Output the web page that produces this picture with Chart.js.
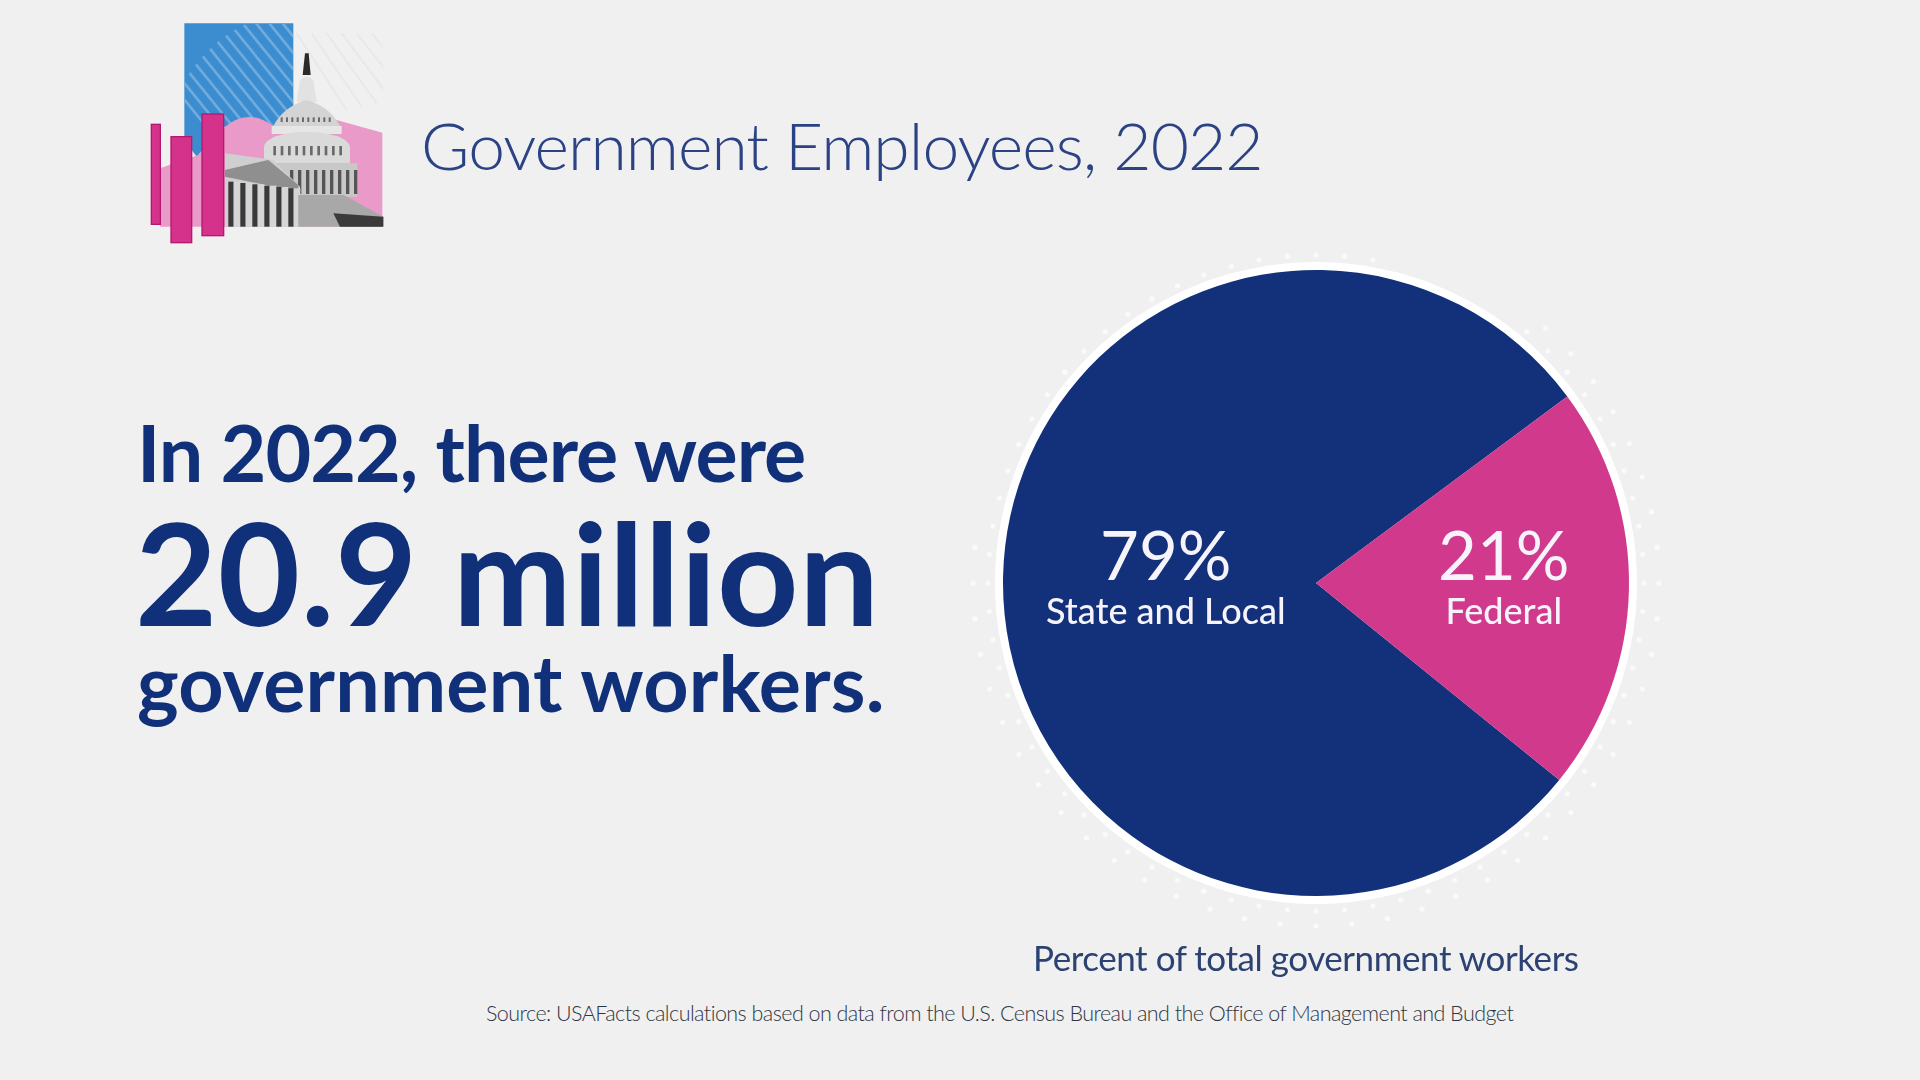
<!DOCTYPE html>
<html>
<head>
<meta charset="utf-8">
<title>Government Employees, 2022</title>
<script src="https://cdn.jsdelivr.net/npm/chart.js@4"></script>
<style>
  html, body { margin: 0; padding: 0; background: #f0f0f0; }
  body { position: relative; width: 1920px; height: 1080px; overflow: hidden; font-family: Lato, "Open Sans", sans-serif; }
  .txt { position: absolute; white-space: nowrap; line-height: 1; }
  #title { left: 421px; top: 112px; font-size: 66px; font-weight: 300; letter-spacing: -0.95px; color: #2b4384; }
  #line1 { left: 137px; top: 412px; font-size: 79px; font-weight: 700; letter-spacing: -1px; color: #11307a; }
  #line2 { left: 135px; top: 500px; font-size: 142px; font-weight: 700; letter-spacing: 0.5px; color: #11307a; }
  #line3 { left: 137px; top: 642px; font-size: 79px; font-weight: 700; letter-spacing: 0.2px; color: #11307a; }
  #caption { left: 1033px; top: 940px; font-size: 35px; letter-spacing: -0.45px; color: #2b4272; }
  #source { left: 486px; top: 1003px; font-size: 21.5px; font-weight: 300; letter-spacing: -0.55px; color: #2f3744; }
  #icon { position: absolute; left: 120px; top: 0; width: 300px; height: 260px; }
  #pie-wrap { position: absolute; left: 936px; top: 203px; width: 760px; height: 760px; }
</style>
</head>
<body>
<svg id="icon" viewBox="0 0 900 780">
  <defs>
    <clipPath id="blue-clip"><path d="M193 70H520V340L460 380L310 380L230 470L193 420Z"/></clipPath>
    <clipPath id="arc-clip"><circle cx="560" cy="450" r="420"/></clipPath>
    <clipPath id="faint-clip"><rect x="520" y="90" width="270" height="310"/></clipPath>
  </defs>
  <g stroke="#e8e8e8" stroke-width="6" id="faint" clip-path="url(#faint-clip)"></g>
  <path d="M193 70H520V340L460 380L310 380L230 470L193 420Z" fill="#3c8dd0"/>
  <g clip-path="url(#blue-clip)"><g clip-path="url(#arc-clip)" stroke="#70abdd" stroke-width="8" id="stripes"></g></g>
  <path d="M120 505L235 465L310 385Q380 320 460 378L650 360L787 398V680H120Z" fill="#e99ac8"/>
  <!-- capitol -->
  <path d="M555 160L566 160L572 225L548 225Z" fill="#2a2a2a"/>
  <path d="M540 240Q560 220 580 240L590 305H530Z" fill="#e2e2e2"/>
  <path d="M460 378Q490 320 560 300Q630 320 660 378Z" fill="#d4d4d4"/>
  <rect x="455" y="378" width="210" height="24" fill="#e6e6e6"/>
  <path d="M432 440Q440 400 560 395Q680 400 690 440V490H432Z" fill="#dadada"/>
  <g id="dome-cols" fill="#6a6a6a"></g>
  <path d="M475 490H712V590H475Z" fill="#c8c8c8"/>
  <g id="drum-cols" fill="#555"></g>
  <path d="M315 460L460 480L540 560V680H315Z" fill="#cfcfcf"/>
  <path d="M315 510L445 480L535 555V575L315 530Z" fill="#8f8f8f"/>
  <g id="front-cols"></g>
  <path d="M535 585L670 585L790 650V680H535Z" fill="#a8a8a8"/>
  <path d="M640 640L790 650V680H660Z" fill="#3a3a3a"/>
  <!-- bars -->
  <g fill="#d5338b" stroke="#b5196f" stroke-width="4">
    <rect x="94" y="373" width="27" height="300"/>
    <rect x="153" y="410" width="62" height="318"/>
    <rect x="246" y="342" width="65" height="365"/>
  </g>
</svg>

<div class="txt" id="title">Government Employees, 2022</div>
<div class="txt" id="line1">In 2022, there were</div>
<div class="txt" id="line2">20.9 million</div>
<div class="txt" id="line3">government workers.</div>

<div id="pie-wrap"><canvas id="pie" width="760" height="760"></canvas></div>

<div class="txt" id="caption">Percent of total government workers</div>
<div class="txt" id="source">Source: USAFacts calculations based on data from the U.S. Census Bureau and the Office of Management and Budget</div>

<script>
const categories = ["State and Local", "Federal"];
const percents = [79, 21];
const sliceColors = ["#13317a", "#d1398c"];
// how far out from the centre each label sits, share of the radius
const labelReach = [0.48, 0.6];

// icon details
function addSvg(parent, tag, attrs) {
  const el = document.createElementNS("http://www.w3.org/2000/svg", tag);
  Object.entries(attrs).forEach(([k, v]) => el.setAttribute(k, v));
  document.getElementById(parent).appendChild(el);
}
for (let i = 0; i < 22; i++) {
  const x = 100 + i * 40;
  addSvg("stripes", "line", { x1: x - 100, y1: 60, x2: x + 240, y2: 480 });
}
for (let i = 0; i < 6; i++) {
  const x = 530 + i * 45;
  addSvg("faint", "line", { x1: x, y1: 100, x2: x + 150, y2: 330 - i * 10 });
}
for (let i = 0; i < 10; i++) {
  addSvg("dome-cols", "rect", { x: 460 + i * 22, y: 438, width: 8, height: 28 });
  addSvg("dome-cols", "rect", { x: 482 + i * 16, y: 352, width: 6, height: 14 });
}
for (let i = 0; i < 9; i++) {
  addSvg("drum-cols", "rect", { x: 510 + i * 24, y: 510, width: 10, height: 72 });
}
for (let i = 0; i < 6; i++) {
  addSvg("front-cols", "rect", { x: 325 + i * 36, y: 545 + i * 4, width: 16, height: 135 - i * 4, fill: "#3a3a3a" });
  addSvg("front-cols", "rect", { x: 341 + i * 36, y: 545 + i * 4, width: 20, height: 135 - i * 4, fill: "#d6d6d6" });
}

const ringAndDots = {
  id: "ringAndDots",
  beforeDatasetsDraw(chart) {
    const arc = chart.getDatasetMeta(0).data[0];
    const { x, y, outerRadius } = arc.getProps(["x", "y", "outerRadius"], true);
    const ctx = chart.ctx;
    ctx.save();
    // faint dots round the pie, thinner over the top right
    ctx.fillStyle = "#fafafa";
    [[outerRadius + 15, 5], [outerRadius + 30, 6]].forEach(([r, step], ring) => {
      for (let a = 0; a < 360; a += step) {
        if (ring === 1 && (a > 280 || a < 40)) continue;
        if (ring === 0 && a > 10 && a < 40) continue;
        const t = a * Math.PI / 180;
        ctx.beginPath();
        ctx.arc(x + r * Math.sin(t), y - r * Math.cos(t), 2.6, 0, Math.PI * 2);
        ctx.fill();
      }
    });
    ctx.beginPath();
    ctx.arc(x, y, outerRadius + 8, 0, Math.PI * 2);
    ctx.fillStyle = "#ffffff";
    ctx.fill();
    ctx.restore();
  }
};

const sliceLabels = {
  id: "sliceLabels",
  afterDatasetsDraw(chart) {
    const ctx = chart.ctx;
    chart.getDatasetMeta(0).data.forEach((arc, i) => {
      const p = arc.getProps(["x", "y", "startAngle", "endAngle", "outerRadius"], true);
      const mid = (p.startAngle + p.endAngle) / 2;
      const cx = p.x + Math.cos(mid) * p.outerRadius * labelReach[i];
      const cy = 558 - 203;
      ctx.save();
      ctx.fillStyle = "#f6f4fa";
      ctx.textAlign = "center";
      ctx.textBaseline = "middle";
      ctx.font = "400 67px Lato, sans-serif";
      ctx.fillText(percents[i] + "%", cx, cy);
      ctx.font = "500 36px Lato, sans-serif";
      ctx.fillText(categories[i], cx, cy + 54);
      ctx.restore();
    });
  }
};

new Chart(document.getElementById("pie"), {
  type: "pie",
  data: {
    labels: categories,
    datasets: [{ data: percents, backgroundColor: sliceColors, borderWidth: 0 }]
  },
  options: {
    responsive: false,
    animation: false,
    rotation: 129,
    layout: { padding: 67 },
    plugins: { legend: { display: false }, tooltip: { enabled: false } }
  },
  plugins: [ringAndDots, sliceLabels]
});
</script>
</body>
</html>
